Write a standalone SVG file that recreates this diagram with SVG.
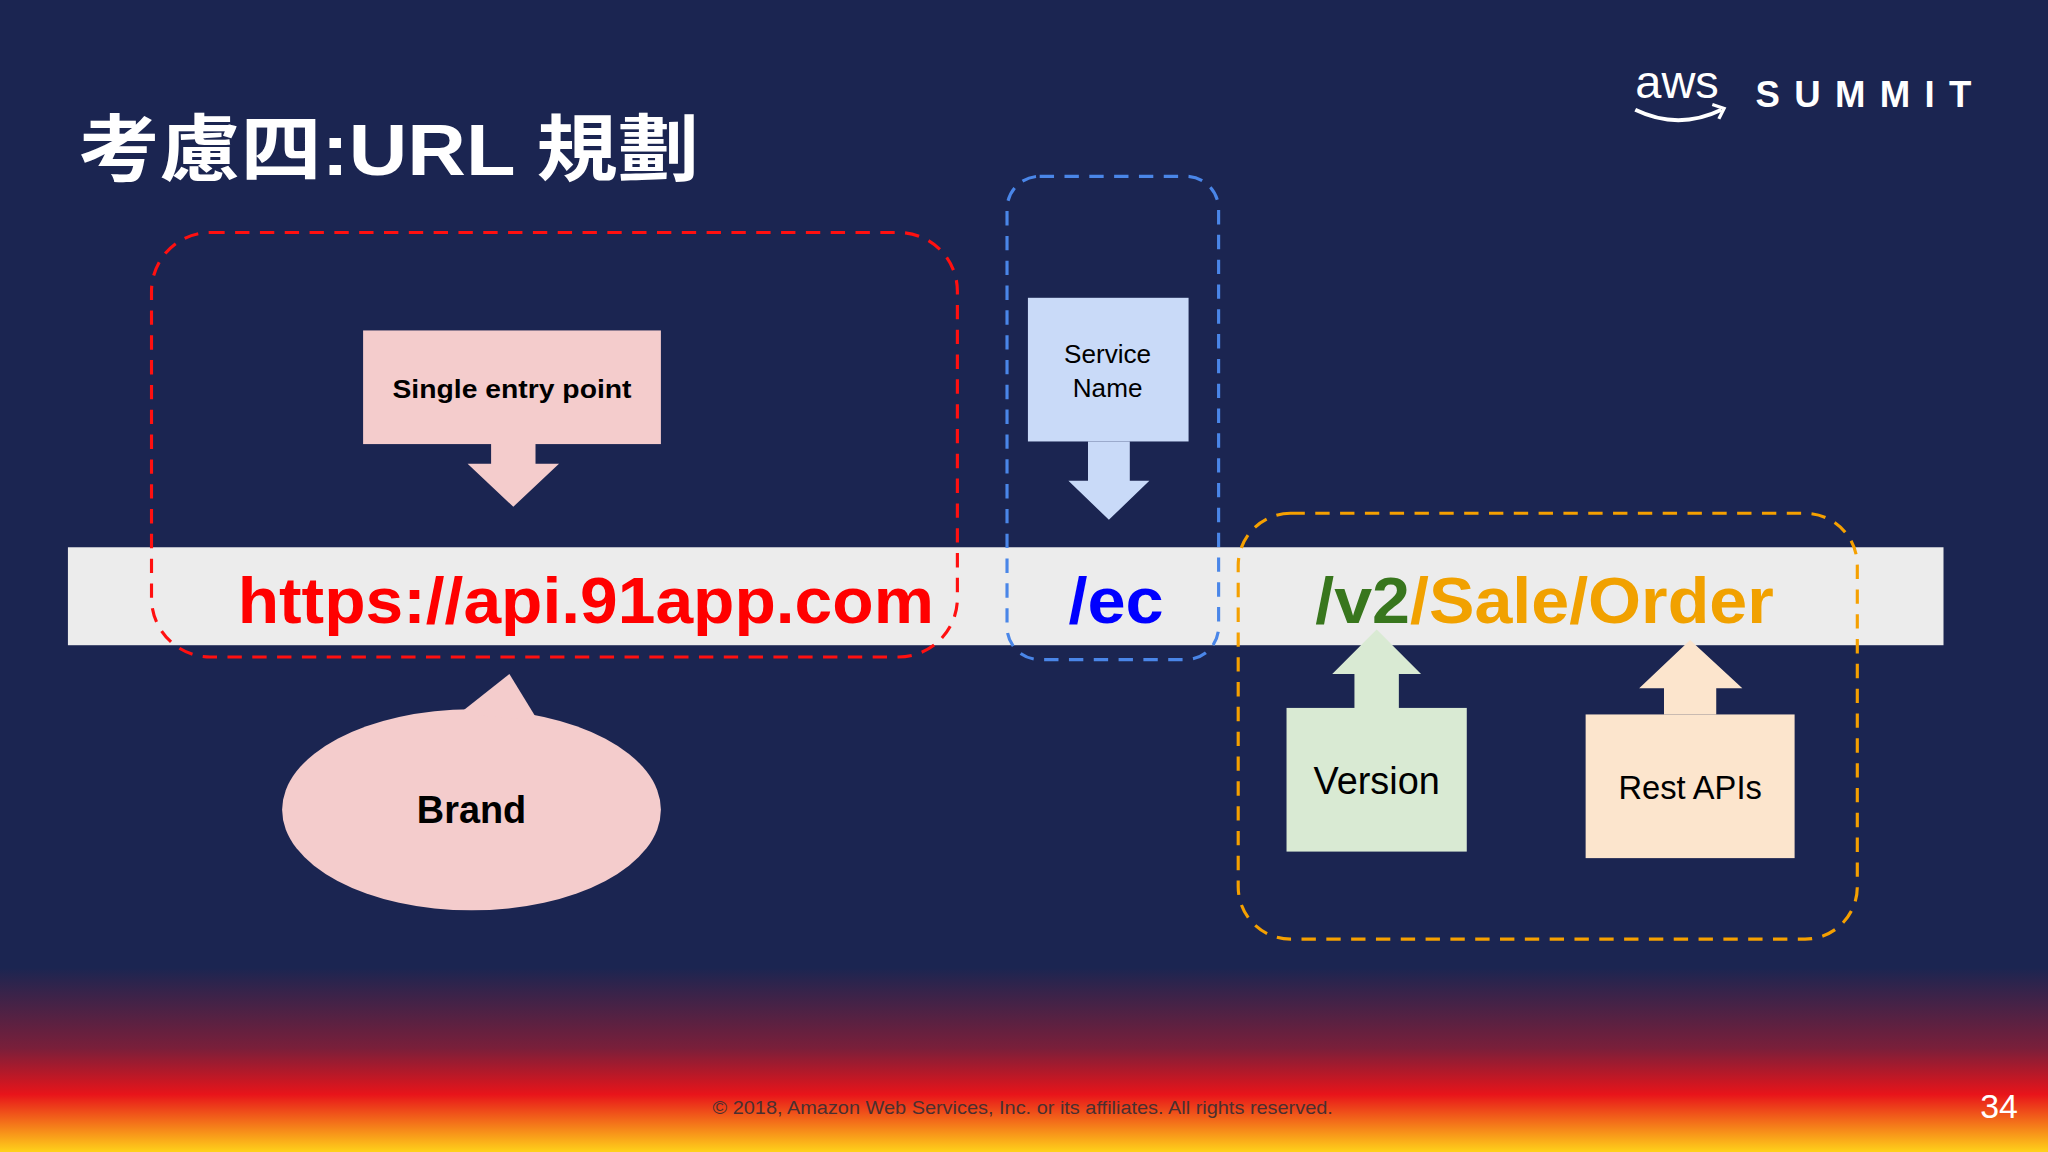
<svg xmlns="http://www.w3.org/2000/svg" width="2048" height="1152" viewBox="0 0 2048 1152">
<defs>
<linearGradient id="bg" x1="0" y1="0" x2="0" y2="1">
<stop offset="0" stop-color="#1b2551"/><stop offset="0.84" stop-color="#1b2551"/><stop offset="0.91" stop-color="#7a1f3a"/><stop offset="0.95" stop-color="#e8141a"/><stop offset="1" stop-color="#ffd21a"/>
</linearGradient>
<style>
.s{font-family:"Liberation Sans",Arial,sans-serif}
.d{fill:none;stroke-width:2.4;stroke-dasharray:11 8}
</style>
</defs>
<rect width="2048" height="1152" fill="url(#bg)"/>
<g transform="scale(1.30612)">
<g id="title"><text x="60" y="134" font-size="56" font-weight="bold" fill="#fff" font-family="'Liberation Sans','Noto Sans CJK TC',sans-serif" textLength="475" lengthAdjust="spacingAndGlyphs">考慮四:URL 規劃</text></g>
<g id="logo">
<text x="1252" y="75" class="s" font-size="36" fill="#fff">aws</text>
<path d="M1252 84 Q1285 100 1318 84" fill="none" stroke="#fff" stroke-width="3"/>
<path d="M1311 80 L1320 83 L1316 91" fill="none" stroke="#fff" stroke-width="2.5"/>
<text x="1344" y="82" class="s" font-size="28" font-weight="bold" fill="#fff" letter-spacing="11">SUMMIT</text>
</g>
<g id="bar"><rect x="52" y="419" width="1436" height="75" fill="#ececec"/></g>
<g id="url">
<text x="182" y="477" class="s" font-size="50" font-weight="bold" fill="#ff0000" textLength="533" lengthAdjust="spacingAndGlyphs">https://api.91app.com</text>
<text x="818" y="477" class="s" font-size="50" font-weight="bold" fill="#0000ff" textLength="73" lengthAdjust="spacingAndGlyphs">/ec</text>
<text x="1007" y="477" class="s" font-size="50" font-weight="bold" textLength="351" lengthAdjust="spacingAndGlyphs"><tspan fill="#38761d">/v2</tspan><tspan fill="#f1a100">/Sale/Order</tspan></text>
</g>
<g id="groups">
<rect x="116" y="178" width="617" height="325" rx="45" class="d" stroke="#ff1010"/>
<rect x="771" y="135" width="162" height="370" rx="25" class="d" stroke="#4a86e8"/>
<rect x="948" y="393" width="474" height="326" rx="40" class="d" stroke="#f5a000"/>
</g>
<g id="single">
<rect x="278" y="253" width="228" height="87" fill="#f4cccc"/>
<polygon points="376,340 410,340 410,355 428,355 393,388 358,355 376,355" fill="#f4cccc"/>
<text x="392" y="305" class="s" font-size="20" font-weight="bold" text-anchor="middle" textLength="183" lengthAdjust="spacingAndGlyphs">Single entry point</text>
</g>
<g id="service">
<rect x="787" y="228" width="123" height="110" fill="#c9daf8"/>
<polygon points="833,338 865,338 865,368 880,368 849,398 818,368 833,368" fill="#c9daf8"/>
<text x="848" y="278" class="s" font-size="20" text-anchor="middle">Service</text>
<text x="848" y="304" class="s" font-size="20" text-anchor="middle">Name</text>
</g>
<g id="version">
<rect x="985" y="542" width="138" height="110" fill="#d9ead3"/>
<polygon points="1037,542 1071,542 1071,516 1088,516 1054,482 1020,516 1037,516" fill="#d9ead3"/>
<text x="1054" y="608" class="s" font-size="29" text-anchor="middle">Version</text>
</g>
<g id="rest">
<rect x="1214" y="547" width="160" height="110" fill="#fce5cd"/>
<polygon points="1274,547 1314,547 1314,527 1334,527 1294,490 1255,527 1274,527" fill="#fce5cd"/>
<text x="1294" y="612" class="s" font-size="25" text-anchor="middle">Rest APIs</text>
</g>
<g id="brand">
<ellipse cx="361" cy="620" rx="145" ry="77" fill="#f4cccc"/>
<polygon points="352,546 390,516 412,552" fill="#f4cccc"/>
<text x="361" y="630" class="s" font-size="29" font-weight="bold" text-anchor="middle">Brand</text>
</g>
<g id="footer">
<text x="783" y="853" class="s" font-size="14" fill="#4a3030" text-anchor="middle" textLength="475" lengthAdjust="spacingAndGlyphs">© 2018, Amazon Web Services, Inc. or its affiliates. All rights reserved.</text>
<text x="1545" y="856" class="s" font-size="26" fill="#fff" text-anchor="end">34</text>
</g>
</g>
</svg>
